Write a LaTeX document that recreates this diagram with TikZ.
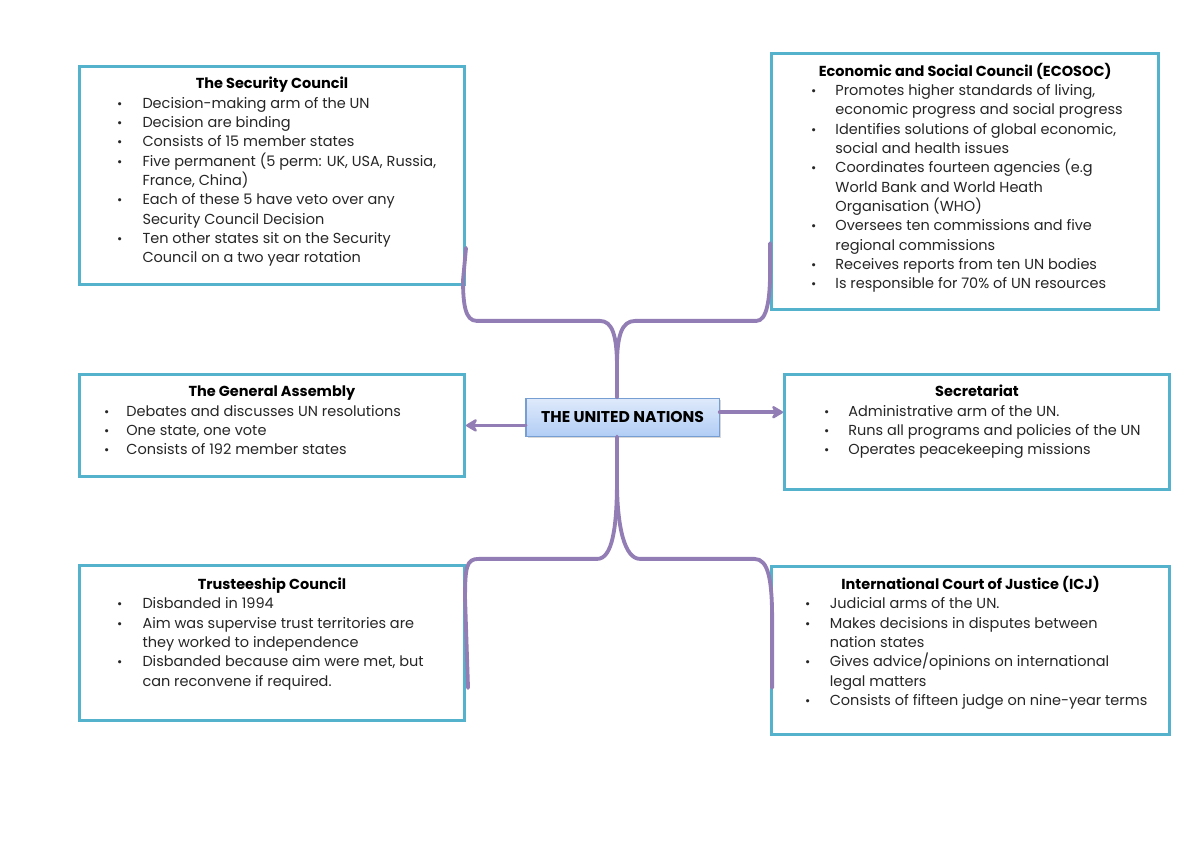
\documentclass[tikz,border=0pt]{standalone}
\usepackage{fontspec}
\setmainfont{Poppins}
\usetikzlibrary{arrows.meta,positioning,calc,shadows}

\definecolor{uncyan}{RGB}{84,178,204}
\definecolor{unpurple}{RGB}{146,125,180}
\definecolor{unhubtop}{RGB}{223,234,251}
\definecolor{unhubbot}{RGB}{178,205,245}
\definecolor{unhubedge}{RGB}{118,158,210}

% panel text: width, height, top strut, title, bullet offset, text offset
\newenvironment{unpanel}[6]{%
  \begin{minipage}[t][#2][t]{#1}%
  \fontsize{10.2}{13.6}\selectfont\centering
  \rule{0pt}{#3}\textbf{#4}\par\raggedright\color{black!85}%
  \begin{list}{\small•}{\setlength{\leftmargin}{#6}%
    \setlength{\labelwidth}{\dimexpr#6-#5\relax}\setlength{\labelsep}{0pt}%
    \setlength{\itemsep}{0pt}\setlength{\parsep}{0pt}%
    \setlength{\topsep}{0pt}\setlength{\partopsep}{0pt}%
    \def\makelabel##1{\hbox to \labelwidth{##1\hfil}}}}%
  {\end{list}\end{minipage}}

\tikzset{
  unbox/.style={draw=uncyan,line width=2.1pt,inner sep=0pt,anchor=north west},
  unhub/.style={draw=unhubedge,line width=0.8pt,top color=unhubtop,bottom color=unhubbot,
    minimum width=4.78cm,minimum height=0.94cm,inner sep=0pt,
    font=\fontsize{11}{12}\selectfont\bfseries,
    drop shadow={shadow xshift=0.4mm,shadow yshift=-0.5mm,opacity=0.3}},
  unbrace/.style={draw=unpurple,line width=2.7pt,line cap=round,line join=round},
  unarrow/.style={unbrace,-{Stealth[length=0.34cm,width=0.4cm,round]}}
}

\begin{document}
\begin{tikzpicture}[x=1cm,y=1cm]
  \fill[white] (0,0) rectangle (29.7,21.013);
  \useasboundingbox (0,0) rectangle (29.7,21.013);

  \node[unbox] (sc) at (1.93,19.40) {\begin{unpanel}{9.53cm}{5.40cm}{0.55cm}{The Security Council}{0.93cm}{1.56cm}
    \item Decision-making arm of the UN
    \item Decision are binding
    \item Consists of 15 member states
    \item Five permanent (5 perm: UK, USA, Russia,\\ France, China)
    \item Each of these 5 have veto over any\\ Security Council Decision
    \item Ten other states sit on the Security\\ Council on a two year rotation
  \end{unpanel}};

  \node[unbox] (eco) at (19.06,19.73) {\begin{unpanel}{9.58cm}{6.34cm}{0.57cm}{Economic and Social Council (ECOSOC)}{0.98cm}{1.58cm}
    \item Promotes higher standards of living,\\ economic progress and social progress
    \item Identifies solutions of global economic,\\ social and health issues
    \item Coordinates fourteen agencies (e.g\\ World Bank and World Heath\\ Organisation (WHO)
    \item Oversees ten commissions and five\\ regional commissions
    \item Receives reports from ten UN bodies
    \item Is responsible for 70\% of UN resources
  \end{unpanel}};

  \node[unbox] (ga) at (1.93,11.78) {\begin{unpanel}{9.53cm}{2.52cm}{0.55cm}{The General Assembly}{0.61cm}{1.16cm}
    \item Debates and discusses UN resolutions
    \item One state, one vote
    \item Consists of 192 member states
  \end{unpanel}};

  \node[unbox] (sec) at (19.38,11.78) {\begin{unpanel}{9.53cm}{2.85cm}{0.55cm}{Secretariat}{0.98cm}{1.58cm}
    \item Administrative arm of the UN.
    \item Runs all programs and policies of the UN
    \item Operates peacekeeping missions
  \end{unpanel}};

  \node[unbox] (tr) at (1.93,7.05) {\begin{unpanel}{9.53cm}{3.83cm}{0.59cm}{Trusteeship Council}{0.93cm}{1.56cm}
    \item Disbanded in 1994
    \item Aim was supervise trust territories are\\ they worked to independence
    \item Disbanded because aim were met, but\\ can reconvene if required.
  \end{unpanel}};

  \node[unbox] (icj) at (19.06,7.03) {\begin{unpanel}{9.85cm}{4.16cm}{0.57cm}{International Court of Justice (ICJ)}{0.83cm}{1.44cm}
    \item Judicial arms of the UN.
    \item Makes decisions in disputes between\\ nation states
    \item Gives advice/opinions on international\\ legal matters
    \item Consists of fifteen judge on nine-year terms
  \end{unpanel}};

  \node[unhub] (un) at (15.41,10.69) {THE UNITED NATIONS};

  % brace tips and forks
  \coordinate (sctip) at ($(sc.south east)+(0,0.95)$);
  \coordinate (ecotip) at ($(eco.south west)+(0,1.68)$);
  \coordinate (trtip) at ($(tr.south east)+(0.05,0.84)$);
  \coordinate (icjtip) at ($(icj.south west)+(0.05,1.19)$);
  \coordinate (upcusp) at ($(un.north)+(-0.14,0)$);
  \coordinate (downcusp) at ($(un.south)+(-0.14,0)$);
  \coordinate (upfork) at ($(upcusp)+(0,0.77)$);
  \coordinate (downfork) at ($(downcusp)+(0,-1.09)$);

  \draw[unbrace] (upcusp) -- (upfork) .. controls (15.27,12.72) and (15.15,13.07) .. (14.85,13.07)
    -- (11.80,13.07) .. controls (11.52,13.07) and (11.46,13.46) .. (11.46,14.08) -- (sctip);
  \draw[unbrace] (upfork) .. controls (15.27,12.72) and (15.39,13.07) .. (15.72,13.07)
    -- (18.72,13.07) .. controls (18.98,13.07) and (19.06,13.59) .. (19.06,14.33) -- (ecotip);
  \draw[unbrace] (downcusp) -- (downfork) .. controls (15.27,7.93) and (15.15,7.18) .. (14.78,7.18)
    -- (11.85,7.18) .. controls (11.55,7.18) and (11.51,7.0) .. (11.51,6.2) -- (trtip);
  \draw[unbrace] (downfork) .. controls (15.27,7.93) and (15.47,7.18) .. (15.84,7.18)
    -- (18.67,7.18) .. controls (19.02,7.18) and (19.11,6.66) .. (19.11,5.67) -- (icjtip);

  \coordinate (secfrom) at ($(un.east)+(0,0.12)$);
  \draw[unarrow] (un.west |- ga.east) -- (ga.east);
  \draw[unarrow] (secfrom) -- (secfrom -| sec.west);
\end{tikzpicture}
\end{document}
